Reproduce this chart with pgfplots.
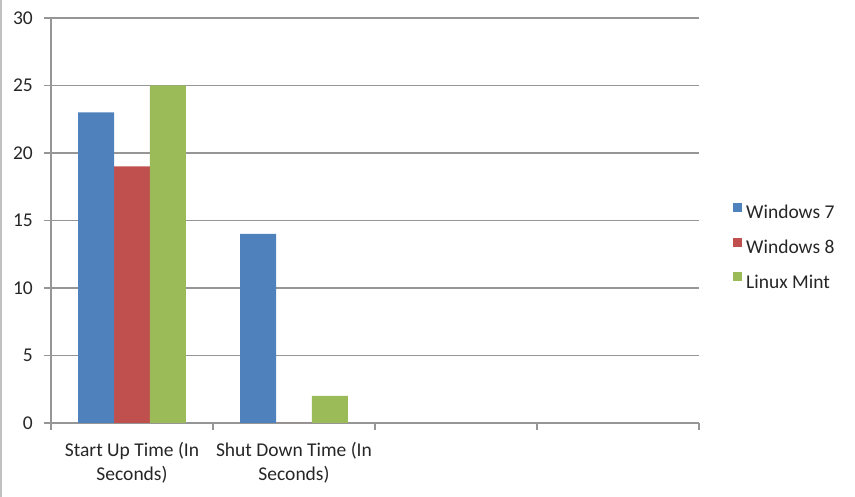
\documentclass[border=0pt]{standalone}
\usepackage{fontspec}
\setmainfont{Carlito}
\usepackage{pgfplots}
\pgfplotsset{compat=1.18}
\definecolor{winseven}{HTML}{4F81BD}
\definecolor{wineight}{HTML}{C0504D}
\definecolor{mint}{HTML}{9BBB59}
\definecolor{axgray}{HTML}{969696}
\begin{document}
\fontsize{19.5}{24}\selectfont
\begin{tikzpicture}
\path[use as bounding box] (0pt,0pt) rectangle (855pt,497pt);
\draw[axgray!60, line width=1.2pt] (1pt,0pt) -- (1pt,497pt);
\begin{axis}[
    at={(51pt,74pt)}, anchor=south west,
    scale only axis, width=648pt, height=405pt,
    xmin=0, xmax=4, ymin=0, ymax=30,
    ybar=0pt, bar width=0.2222,
    axis x line*=bottom, axis y line*=left,
    axis line style={axgray, line width=1.3pt},
    ymajorgrids, grid style={axgray, line width=1.3pt},
    ytick={0,5,...,30},
    xtick={0,1,2,3,4}, xticklabels={},
    extra x ticks={0.5,1.5},
    extra x tick labels={{Start Up Time (In\\Seconds)},{Shut Down Time (In\\Seconds)}},
    extra x tick style={major tick length=0pt, grid=none,
        xticklabel style={align=center, yshift=-13pt}},
    tick align=outside, major tick length=7pt,
    tick style={axgray, line width=1.3pt},
    /pgf/number format/assume math mode=true,
    tick label style={font=\fontsize{19.5}{24}\selectfont, text=black!85},
    yticklabel style={inner sep=0pt, xshift=-11pt},
    legend cell align=left,
    legend style={at={(1.0525,0.4346)}, anchor=west, draw=none, fill=none,
        inner sep=0pt, row sep=16pt, font=\fontsize{19.5}{24}\selectfont,
        nodes={inner sep=0pt, anchor=west, text=black!85},
        /tikz/every odd column/.append style={column sep=4pt}},
]
\addplot[fill=winseven, draw=none,
    legend image code/.code={\fill[winseven] (0pt,1.5pt) rectangle (9pt,10.5pt);}]
    coordinates {(0.5,23) (1.5,14)};
\addplot[fill=wineight, draw=none,
    legend image code/.code={\fill[wineight] (0pt,1.5pt) rectangle (9pt,10.5pt);}]
    coordinates {(0.5,19) (1.5,0)};
\addplot[fill=mint, draw=none,
    legend image code/.code={\fill[mint] (0pt,1.5pt) rectangle (9pt,10.5pt);}]
    coordinates {(0.5,25) (1.5,2)};
\legend{Windows 7, Windows 8, Linux Mint}
\end{axis}
\end{tikzpicture}
\end{document}
